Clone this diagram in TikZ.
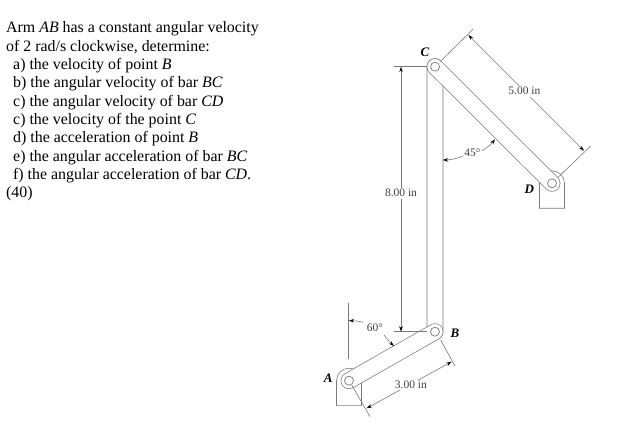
\documentclass[tikz,border=0pt]{standalone}
\usepackage{fontspec}
\setmainfont{Liberation Serif}
\usetikzlibrary{arrows.meta,calc}
\definecolor{linegray}{gray}{0.48}
\tikzset{
  bar/.style={draw=linegray,double=white,double distance=15.4pt,line width=0.7pt,line cap=round},
  pinhole/.style={circle,draw=linegray,fill=white,line width=0.7pt,minimum size=9pt,inner sep=0pt},
  thinline/.style={draw=linegray,line width=0.6pt},
  dimline/.style={thinline,{Stealth[length=5.5pt,width=3.5pt,black]}-{Stealth[length=5.5pt,width=3.5pt,black]}},
  pointer/.style={thinline,-{Stealth[length=5.5pt,width=3.5pt,black]}},
  dimtext/.style={fill=white,inner sep=1.5pt,text=black!75,font=\fontsize{11.5}{13}\selectfont},
  pointlabel/.style={font=\fontsize{13}{15}\selectfont\bfseries\itshape}
}
\begin{document}
\begin{tikzpicture}[x=1pt,y=-1pt]
\useasboundingbox (0,0) rectangle (641,446);
\node[anchor=north west,align=left,inner sep=0pt,font=\fontsize{15.9}{18.35}\selectfont] (problem) at (6,21.5) {%
Arm \textit{AB} has a constant angular velocity\\
of 2 rad/s clockwise, determine:\\
\hspace{7pt}a) the velocity of point \textit{B}\\
\hspace{7pt}b) the angular velocity of bar \textit{BC}\\
\hspace{7pt}c) the angular velocity of bar \textit{CD}\\
\hspace{7pt}c) the velocity of the point \textit{C}\\
\hspace{7pt}d) the acceleration of point \textit{B}\\
\hspace{7pt}e) the angular acceleration of bar \textit{BC}\\
\hspace{7pt}f) the angular acceleration of bar \textit{CD}.\\
(40)};
% pins
\coordinate (A) at (349,380.7);
\coordinate (B) at (435,331.7);
\coordinate (C) at (435.05,66.7);
\coordinate (D) at (552,183.3);
% supports
\foreach \pin in {A,D}
\draw[thinline,fill=white,shift={(\pin)}] (-12.5,25) -- (-12.5,0) arc (180:360:12.5) -- (12.5,25) -- cycle;
% bars
\draw[bar] (C) -- (B);
\draw[bar] (A) -- (B);
\draw[bar] (C) -- (D);
\foreach \pin in {A,B,C,D}
\node[pinhole] (hole\pin) at (\pin) {};
% 8.00 in
\coordinate (eightTop) at (401,66.7);
\coordinate (eightBot) at (401,331.7);
\draw[thinline] (393.5,66.7) -- (427,66.7);
\draw[thinline] (394,331.7) -- (427,331.7);
\draw[dimline] (eightTop) -- node[dimtext,pos=0.477] (eightText) {8.00 in} (eightBot);
% 3.00 in
\coordinate (threeA) at (366.7,408.3);
\coordinate (threeB) at (451.7,361.7);
\draw[thinline] (351.7,385) -- (370,416.7);
\draw[thinline] (440.7,340) -- (455,366);
\draw[dimline] (threeA) -- node[dimtext,pos=0.52,yshift=-1pt] (threeText) {3.00 in} (threeB);
% 5.00 in
\coordinate (fiveC) at (468.3,35);
\coordinate (fiveD) at (584,150.7);
\draw[thinline] (440.7,61) -- (473.3,29);
\draw[thinline] (557.7,177.7) -- (590.7,146);
\draw[dimline] (fiveC) -- node[dimtext,pos=0.485] (fiveText) {5.00 in} (fiveD);
% 60 deg
\draw[thinline] (348.7,302.7) -- (348.7,359.3);
\node[dimtext,fill=none] (sixty) at (375,327.7) {60\textdegree};
\coordinate (sixtyLeft) at (348.7,320.7);
\coordinate (sixtyBar) at (394,346);
\draw[pointer] (363.3,322.3) to[bend right=6] (sixtyLeft);
\draw[pointer] (384,335) to[bend right=6] (sixtyBar);
% 45 deg
\node[dimtext,fill=none] (fortyfive) at (472.3,152.7) {45\textdegree};
\coordinate (fortyLeft) at (442.7,160);
\coordinate (fortyRight) at (495,139.3);
\draw[pointer] (463.3,156) to[bend left=10] (fortyLeft);
\draw[pointer] (481.7,151) to[bend right=10] (fortyRight);
% labels
\node[pointlabel] (labelA) at (328.3,378.3) {A};
\node[pointlabel] (labelB) at (455,333.3) {B};
\node[pointlabel] (labelC) at (425,52.3) {C};
\node[pointlabel] (labelD) at (529.3,189) {D};
\end{tikzpicture}
\end{document}
